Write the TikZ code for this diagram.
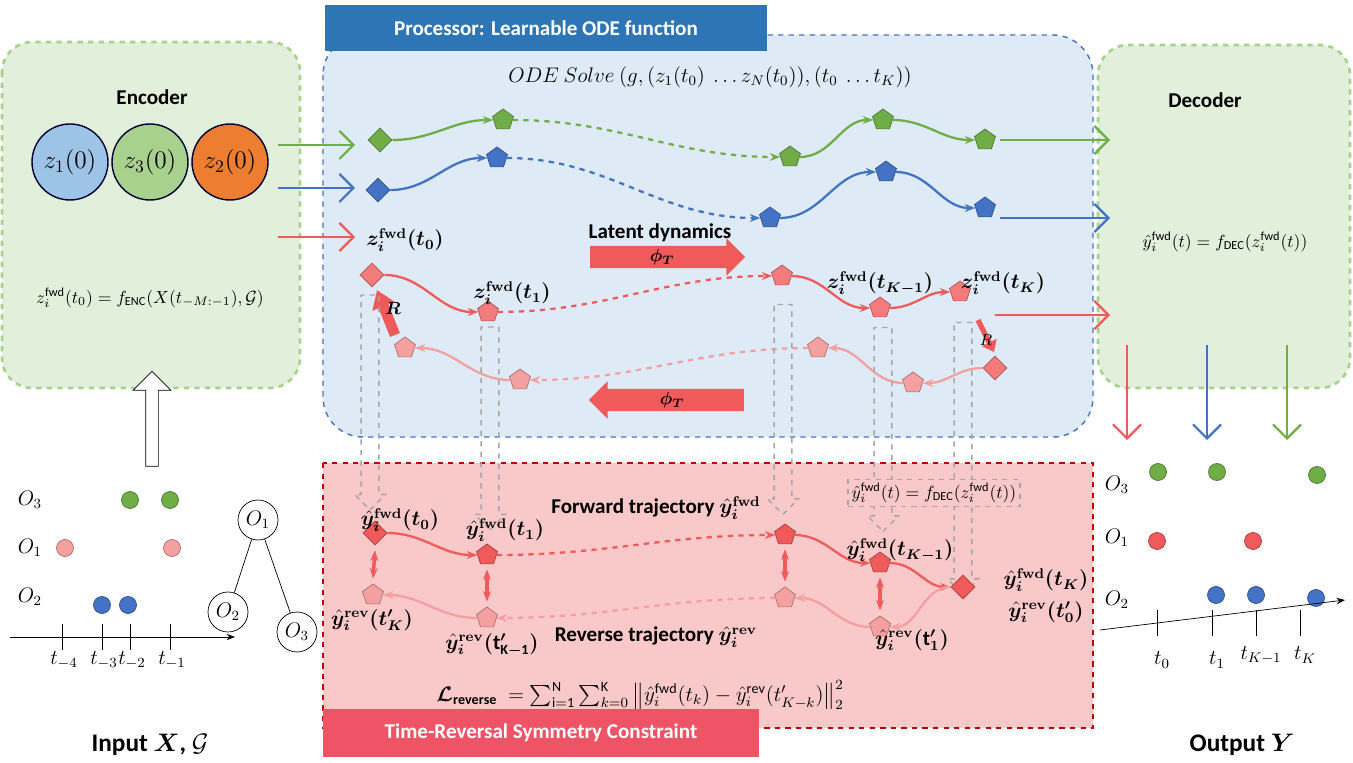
\documentclass[tikz,border=0pt]{standalone}
\usepackage{fontspec}
\setmainfont{Carlito}
\usepackage{amsmath,amssymb,bm}
\usetikzlibrary{shapes.geometric,shapes.arrows,arrows.meta}
\definecolor{encfill}{HTML}{E2EFDA}\definecolor{encline}{HTML}{A9D18E}
\definecolor{profill}{HTML}{DEEBF7}\definecolor{proline}{HTML}{4472C4}
\definecolor{protab}{HTML}{2E75B6}
\definecolor{redfill}{HTML}{F9C8C8}\definecolor{redline}{HTML}{C00000}
\definecolor{redtab}{HTML}{EF5466}
\definecolor{rd}{HTML}{F05A5A}\definecolor{rdl}{HTML}{F4A0A0}\definecolor{rdm}{HTML}{F47B7B}
\definecolor{gr}{HTML}{70AD47}\definecolor{bl}{HTML}{4472C4}
\definecolor{cblue}{HTML}{9DC3E6}\definecolor{corange}{HTML}{ED7D31}
\newcommand{\fw}{\mathrm{fwd}}\newcommand{\rv}{\mathrm{rev}}
\tikzset{
 pent/.style={regular polygon,regular polygon sides=5,minimum size=0.44cm,inner sep=0pt,draw=#1!70!black,fill=#1},
 dia/.style={diamond,minimum size=0.48cm,inner sep=0pt,draw=#1!70!black,fill=#1},
 lk/.style={#1,line width=1.3pt,-{Stealth[length=6pt]}},
 garrow/.style={single arrow,shape border rotate=270,draw=gray!70,dashed,thick,minimum width=0.62cm,inner sep=0.12cm,single arrow head extend=0.1cm},
 fat/.style={single arrow,fill=rd,minimum height=3.1cm,minimum width=0.7cm,inner sep=0.06cm,single arrow head extend=0.15cm,text=black},
 dot/.style={circle,minimum size=0.34cm,inner sep=0pt,fill=#1,draw=#1!70!black},
 ax/.style={font=\large},
}
\begin{document}
\begin{tikzpicture}[x=0.02cm,y=-0.02cm]
\useasboundingbox (0,0) rectangle (1353,763);
% boxes
\draw[encline,dashed,line width=1.5pt,fill=encfill,rounded corners=0.6cm] (2,42) rectangle (300,388);
\draw[encline,dashed,line width=1.5pt,fill=encfill,rounded corners=0.6cm] (1098,45) rectangle (1350,388);
\draw[proline,dashed,thick,fill=profill,rounded corners=0.8cm] (323,35) rectangle (1093,437);
\node[fill=protab,minimum width=8.86cm,minimum height=0.92cm,text=white,font=\large\bfseries] (ptab) at (546,28) {Processor: Learnable ODE function};
\draw[redline,dashed,thick,fill=redfill] (323,463) rectangle (1093,728);
\node[fill=redtab,minimum width=8.74cm,minimum height=0.96cm,text=white,font=\large\bfseries] (rtab) at (541,733) {Time-Reversal Symmetry Constraint};
% encoder
\node[font=\large\bfseries] (enc) at (152,97) {Encoder};
\node[circle,draw=black!80!blue,thick,fill=cblue,minimum size=1.52cm] (c1) at (70,162) {\Large$z_1(0)$};
\node[circle,draw=black!80!blue,thick,fill=encline,minimum size=1.52cm] (c3) at (150,162) {\Large$z_3(0)$};
\node[circle,draw=black!80!blue,thick,fill=corange,minimum size=1.52cm] (c2) at (230,162) {\Large$z_2(0)$};
\node (encf) at (150,298) {$z_i^{\fw}(t_0)=f_{\mathrm{ENC}}(X(t_{-M:-1}),\mathcal{G})$};
\node[single arrow,shape border rotate=90,draw=black,fill=white,minimum height=1.9cm,minimum width=0.68cm,inner sep=0.12cm] (up) at (152,422) {};
% decoder
\node[font=\large\bfseries] (dec) at (1205,100) {Decoder};
\node (decf) at (1225,242) {$\hat y_i^{\fw}(t)=f_{\mathrm{DEC}}(z_i^{\fw}(t))$};
% ODE title
\node[font=\large] (ode) at (710,77) {$ODE\ Solve\ (g,(z_1(t_0)\ \dots z_N(t_0)),(t_0\ \dots t_K))$};
% green trajectory
\coordinate (gin) at (278,145);
\node[dia=gr] (g0) at (380,140) {};
\node[pent=gr] (g1) at (503,120) {};
\node[pent=gr] (g2) at (790,157) {};
\node[pent=gr] (g3) at (883,120) {};
\node[pent=gr] (g4) at (985,140) {};
\coordinate (gout) at (1110,140);
\draw[gr,line width=1.3pt,-{Straight Barb[length=8pt]}] (gin) -- ++(77,0);
\draw[lk=gr] (g0) to[out=0,in=180] (g1);
\draw[lk=gr,dashed] (g1) to[out=0,in=180] (g2);
\draw[lk=gr] (g2) to[out=0,in=180] (g3);
\draw[lk=gr] (g3) to[out=0,in=180] (g4);
\draw[gr,line width=1.3pt,-{Straight Barb[length=8pt]}] (1000,140) -- (gout);
% blue trajectory
\node[dia=bl] (b0) at (378,190) {};
\node[pent=bl] (b1) at (497,158) {};
\node[pent=bl] (b2) at (770,218) {};
\node[pent=bl] (b3) at (886,172) {};
\node[pent=bl] (b4) at (985,208) {};
\draw[bl,line width=1.3pt,-{Straight Barb[length=8pt]}] (278,188) -- (355,188);
\draw[lk=bl] (b0) to[out=0,in=180] (b1);
\draw[lk=bl,dashed] (b1) to[out=0,in=180] (b2);
\draw[lk=bl] (b2) to[out=0,in=180] (b3);
\draw[lk=bl] (b3) to[out=0,in=180] (b4);
\draw[bl,line width=1.3pt,-{Straight Barb[length=8pt]}] (1000,218) -- (1110,218);
% red latent
\draw[rd,line width=1.3pt,-{Straight Barb[length=8pt]}] (278,237) -- (355,237);
\draw[rd,line width=1.3pt,-{Straight Barb[length=8pt]}] (995,315) -- (1110,315);
\node[dia=rdm] (r0) at (372,275) {};
\node[pent=rdm] (r1) at (488,312) {};
\node[pent=rdm] (r2) at (782,276) {};
\node[pent=rdm] (r3) at (880,308) {};
\node[pent=rdm] (r4) at (960,292) {};
\draw[lk=rd] (r0) to[out=0,in=180] (r1);
\draw[lk=rd,dashed] (r1) to[out=0,in=180] (r2);
\draw[lk=rd] (r2) to[out=0,in=180] (r3);
\draw[lk=rd] (r3) to[out=0,in=180] (r4);
\node[font=\large] at (405,240) {$\bm{z_i^{\mathbf{fwd}}(t_0)}$};
\node[font=\large] at (512,293) {$\bm{z_i^{\mathbf{fwd}}(t_1)}$};
\node[font=\large] at (880,283) {$\bm{z_i^{\mathbf{fwd}}(t_{K-1})}$};
\node[font=\large] at (1003,283) {$\bm{z_i^{\mathbf{fwd}}(t_K)}$};
\node[dia=rdm] (q0) at (995,368) {};
\node[pent=rdl] (q1) at (913,383) {};
\node[pent=rdl] (q2) at (818,348) {};
\node[pent=rdl] (q3) at (520,380) {};
\node[pent=rdl] (q4) at (405,348) {};
\draw[lk=rdl] (q0) to[out=180,in=0] (q1);
\draw[lk=rdl] (q1) to[out=180,in=0] (q2);
\draw[lk=rdl,dashed] (q2) to[out=180,in=0] (q3);
\draw[lk=rdl] (q3) to[out=180,in=0] (q4);
\draw[rd,line width=6pt,-{Triangle[length=10pt,width=13pt]}] (395,335) -- (377,290);
\node at (393,308) {$\bm{R}$};
\draw[rd,line width=3pt,-{Triangle[length=6pt,width=9pt]}] (978,320) -- (994,352);
\node[font=\small] at (986,340) {$R$};
\node[font=\large\bfseries] (ld) at (660,233) {Latent dynamics};
\node[fat] (f1) at (662,257) {$\bm{\phi_T}$};
\node[fat,shape border rotate=180] (f2) at (672,400) {$\bm{\phi_T}$};
% gray arrows
\node[garrow,minimum height=4.3cm] at (370,398) {};
\node[garrow,minimum height=4.06cm] at (490,424) {};
\node[garrow,minimum height=4.2cm] at (783,405) {};
\node[garrow,minimum height=4.08cm] at (883,425) {};
\node[garrow,minimum height=5.44cm] at (963,454) {};
\node[draw=gray!70,dashed,thick,fill=redfill,inner sep=2pt] (gb) at (934,493) {$\hat y_i^{\fw}(t)=f_{\mathrm{DEC}}(z_i^{\fw}(t))$};
% bottom trajectories
\node[dia=rd] (y0) at (375,533) {};
\node[pent=rd] (y1) at (487,555) {};
\node[pent=rd] (y2) at (785,535) {};
\node[pent=rd] (y3) at (880,563) {};
\node[dia=rd] (y4) at (963,587) {};
\draw[lk=rd] (y0) to[out=0,in=180] (y1);
\draw[lk=rd,dashed] (y1) to[out=0,in=180] (y2);
\draw[lk=rd] (y2) to[out=0,in=180] (y3);
\draw[lk=rd] (y3) to[out=0,in=180] (y4);
\node[pent=rdl] (v0) at (373,595) {};
\node[pent=rdl] (v1) at (487,618) {};
\node[pent=rdl] (v2) at (785,598) {};
\node[pent=rdl] (v3) at (880,627) {};
\draw[lk=rdl] (y4) to[out=180,in=0] (v3);
\draw[lk=rdl] (v3) to[out=180,in=0] (v2);
\draw[lk=rdl,dashed] (v2) to[out=180,in=0] (v1);
\draw[lk=rdl] (v1) to[out=180,in=0] (v0);
\foreach \a/\b in {y0/v0,y1/v1,y2/v2,y3/v3}
  \draw[rd,line width=2pt,{Stealth[length=6pt]}-{Stealth[length=6pt]}] ([yshift=-0.1cm]\a.south) -- ([yshift=0.1cm]\b.north);
\node[font=\large] at (400,520) {$\bm{\hat y_i^{\mathbf{fwd}}(t_0)}$};
\node[font=\large] at (505,530) {$\bm{\hat y_i^{\mathbf{fwd}}(t_1)}$};
\node[font=\large] at (900,550) {$\bm{\hat y_i^{\mathbf{fwd}}(t_{K-1})}$};
\node[font=\large] at (1046,580) {$\bm{\hat y_i^{\mathbf{fwd}}(t_K)}$};
\node[font=\large] at (372,620) {$\bm{\hat y_i^{\mathbf{rev}}(t'_K)}$};
\node[font=\large] at (492,645) {$\bm{\hat y_i^{\mathbf{rev}}(\mathrm{t}'_{\mathrm{K-1}})}$};
\node[font=\large] at (912,640) {$\bm{\hat y_i^{\mathbf{rev}}(\mathrm{t}'_1)}$};
\node[font=\large] at (1046,612) {$\bm{\hat y_i^{\mathbf{rev}}(t'_0)}$};
\node[font=\large\bfseries] at (656,508) {Forward trajectory $\bm{\hat y_i^{\mathbf{fwd}}}$};
\node[font=\large\bfseries] at (656,637) {Reverse trajectory $\bm{\hat y_i^{\mathbf{rev}}}$};
\node[font=\large] (loss) at (640,695) {$\bm{\mathcal{L}_{\mathrm{reverse}}}\ =\sum_{\mathrm{i=1}}^{\mathrm{N}}\sum_{k=0}^{\mathrm{K}}\left\|\hat y_i^{\fw}(t_k)-\hat y_i^{\rv}(t'_{K-k})\right\|_2^2$};
% input
\node[ax] at (30,500) {$O_3$};
\node[ax] at (30,548) {$O_1$};
\node[ax] at (30,597) {$O_2$};
\node[dot=gr] at (130,500) {};\node[dot=gr] at (170,500) {};
\node[dot=rdl] at (65,548) {};\node[dot=rdl] at (172,548) {};
\node[dot=bl] at (102,605) {};\node[dot=bl] at (128,605) {};
\draw[-{Stealth}] (10,637) -- (235,637);
\foreach \x/\t in {62/-4,102/-3,130/-2,170/-1}{\draw (\x,624)--(\x,650); \node[ax] at (\x+2,660) {$t_{\t}$};}
\node[font=\Large\bfseries] at (150,745) {Input $\bm{X}$, $\mathcal{G}$};
\node[circle,draw,minimum size=0.8cm,inner sep=0pt] (o1) at (258,520) {\large$O_1$};
\node[circle,draw,minimum size=0.8cm,inner sep=0pt] (o2) at (228,612) {\large$O_2$};
\node[circle,draw,minimum size=0.8cm,inner sep=0pt] (o3) at (297,632) {\large$O_3$};
\draw (o1) -- (o2); \draw (o1) -- (o3);
% output
\draw[rd,line width=1.3pt,-{Straight Barb[length=8pt]}] (1127,345) -- (1127,440);
\draw[bl,line width=1.3pt,-{Straight Barb[length=8pt]}] (1207,345) -- (1207,440);
\draw[gr,line width=1.3pt,-{Straight Barb[length=8pt]}] (1287,345) -- (1287,440);
\node[ax] at (1117,485) {$O_3$};
\node[ax] at (1117,538) {$O_1$};
\node[ax] at (1117,600) {$O_2$};
\node[dot=gr] at (1158,472) {};\node[dot=gr] at (1217,472) {};\node[dot=gr] at (1317,475) {};
\node[dot=rd] at (1157,541) {};\node[dot=rd] at (1253,541) {};
\node[dot=bl] at (1216,595) {};\node[dot=bl] at (1256,595) {};\node[dot=bl] at (1316,598) {};
\draw[-{Stealth}] (1100,630) -- (1345,600);
\foreach \x/\t/\y in {1157/t_0/660,1212/t_1/660,1256/t_{K-1}/655,1300/t_K/655}{\draw (\x,610)--(\x,636); \node[ax] at (\x+5,\y) {$\t$};}
\node[font=\Large\bfseries] at (1242,745) {Output $\bm{Y}$};
\end{tikzpicture}
\end{document}
